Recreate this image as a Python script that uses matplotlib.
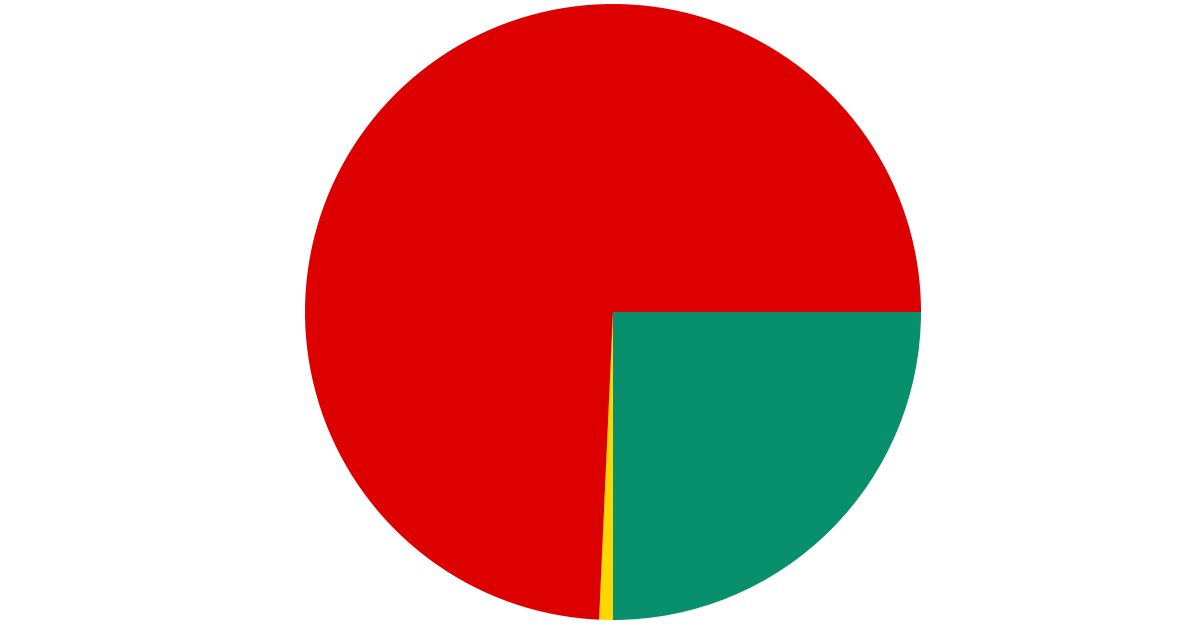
import matplotlib
matplotlib.use("Agg")
import matplotlib.pyplot as plt

labels = ["Green", "Yellow", "Red"]
values = [25.0, 0.72, 74.28]
colors = ["#08906c", "#ffd700", "#dd0000"]

fig = plt.figure(figsize=(12, 6.3), dpi=100)
ax = fig.add_axes([0, 0, 1, 1])
ax.pie(values, colors=colors, startangle=0, counterclock=False, radius=1,
       wedgeprops={"linewidth": 0})
r = 308
ax.set_xlim(-613 / r, (1200 - 613) / r)
ax.set_ylim(-318 / r, 312 / r)
ax.set_aspect("equal")
ax.axis("off")
fig.savefig("out.png", dpi=100, facecolor="white")
